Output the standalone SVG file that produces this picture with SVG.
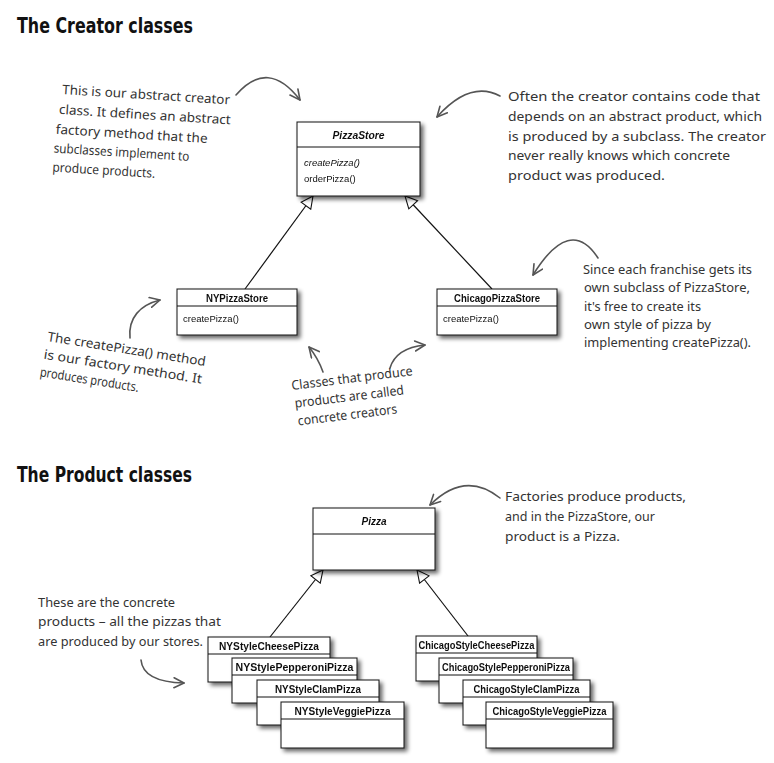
<svg xmlns="http://www.w3.org/2000/svg" width="774" height="763" viewBox="0 0 774 763">
<defs>
<style>
.title{font-family:"DejaVu Sans","Liberation Sans",sans-serif;font-weight:bold;font-size:21px;fill:#111}
.box{fill:#fff;stroke:#111;stroke-width:1}
.div{stroke:#111;stroke-width:1}
.cls{font-family:"Liberation Sans",Arial,sans-serif;font-weight:bold;font-size:10.5px;fill:#111;text-anchor:middle}
.abs{font-style:italic}
.meth{font-family:"Liberation Sans",Arial,sans-serif;font-size:9.5px;fill:#111}
.note{font-family:"Noto Sans","Liberation Sans",sans-serif;font-size:13px;fill:#333}
.arr{fill:none;stroke:#555;stroke-width:1.6;stroke-linecap:round}
.inh{fill:none;stroke:#111;stroke-width:1.2}
</style>
<filter id="sh" x="-10%" y="-10%" width="130%" height="140%">
<feGaussianBlur in="SourceAlpha" stdDeviation="2"/>
<feOffset dx="3" dy="3" result="b"/>
<feComponentTransfer><feFuncA type="linear" slope="0.6"/></feComponentTransfer>
<feMerge><feMergeNode/><feMergeNode in="SourceGraphic"/></feMerge>
</filter>
<marker id="v" viewBox="0 0 12 12" refX="11" refY="6" markerWidth="12" markerHeight="12" markerUnits="userSpaceOnUse" orient="auto">
<path d="M1,1 L11,6 L1,11" fill="none" stroke="#555" stroke-width="1.6" stroke-linecap="round" stroke-linejoin="round"/>
</marker>
<marker id="tri" viewBox="0 0 14 14" refX="13" refY="7" markerWidth="14" markerHeight="14" markerUnits="userSpaceOnUse" orient="auto">
<path d="M1,1 L13,7 L1,13 Z" fill="#fff" stroke="#111" stroke-width="1.1"/>
</marker>
</defs>
<rect width="774" height="763" fill="#fff"/>

<text class="title" x="17" y="33" textLength="176" lengthAdjust="spacingAndGlyphs">The Creator classes</text>
<text class="title" x="17" y="482" textLength="175" lengthAdjust="spacingAndGlyphs">The Product classes</text>

<g id="connectors">
<line class="inh" x1="245" y1="289" x2="313" y2="196" marker-end="url(#tri)"/>
<line class="inh" x1="492" y1="289" x2="405" y2="196" marker-end="url(#tri)"/>
<line class="inh" x1="270" y1="637" x2="323" y2="570" marker-end="url(#tri)"/>
<line class="inh" x1="468" y1="636" x2="417" y2="570" marker-end="url(#tri)"/>
<path class="arr" d="M236,95 Q268,58 300,100" marker-end="url(#v)"/>
<path class="arr" d="M500,96 Q470,80 437,117" marker-end="url(#v)"/>
<path class="arr" d="M598,258 Q570,215 533,275" marker-end="url(#v)"/>
<path class="arr" d="M130,338 C128,318 140,305 160,300" marker-end="url(#v)"/>
<path class="arr" d="M323,372 Q318,358 309,347" marker-end="url(#v)"/>
<path class="arr" d="M390,368 Q396,348 425,345" marker-end="url(#v)"/>
<path class="arr" d="M500,498 Q465,470 430,505" marker-end="url(#v)"/>
<path class="arr" d="M141,660 Q143,682 184,683" marker-end="url(#v)"/>
</g>

<g id="PizzaStore" filter="url(#sh)">
<rect class="box" x="297" y="122" width="123" height="74"/>
<line class="div" x1="297" y1="147" x2="420" y2="147"/>
<text class="cls abs" x="358.5" y="139" textLength="52" lengthAdjust="spacingAndGlyphs">PizzaStore</text>
<text class="meth abs" x="304" y="166">createPizza()</text>
<text class="meth" x="304" y="182">orderPizza()</text>
</g>

<g id="NYPizzaStore" filter="url(#sh)">
<rect class="box" x="177" y="289" width="120" height="46"/>
<line class="div" x1="177" y1="306" x2="297" y2="306"/>
<text class="cls" x="237" y="302" textLength="62" lengthAdjust="spacingAndGlyphs">NYPizzaStore</text>
<text class="meth" x="183" y="322">createPizza()</text>
</g>

<g id="ChicagoPizzaStore" filter="url(#sh)">
<rect class="box" x="437" y="289" width="120" height="46"/>
<line class="div" x1="437" y1="306" x2="557" y2="306"/>
<text class="cls" x="497" y="302" textLength="86" lengthAdjust="spacingAndGlyphs">ChicagoPizzaStore</text>
<text class="meth" x="443" y="322">createPizza()</text>
</g>

<g id="Pizza" filter="url(#sh)">
<rect class="box" x="313" y="508" width="122" height="62"/>
<line class="div" x1="313" y1="534" x2="435" y2="534"/>
<text class="cls abs" x="374" y="525" textLength="25" lengthAdjust="spacingAndGlyphs">Pizza</text>
</g>

<g id="NYStyleCheesePizza" filter="url(#sh)">
<rect class="box" x="208" y="637" width="122" height="45"/>
<line class="div" x1="208" y1="654" x2="330" y2="654"/>
<text class="cls" x="269" y="650" textLength="100" lengthAdjust="spacingAndGlyphs">NYStyleCheesePizza</text>
</g>
<g id="NYStylePepperoniPizza" filter="url(#sh)">
<rect class="box" x="232" y="658" width="125" height="45"/>
<line class="div" x1="232" y1="675" x2="357" y2="675"/>
<text class="cls" x="294.5" y="671" textLength="118" lengthAdjust="spacingAndGlyphs">NYStylePepperoniPizza</text>
</g>
<g id="NYStyleClamPizza" filter="url(#sh)">
<rect class="box" x="257" y="680" width="122" height="45"/>
<line class="div" x1="257" y1="697" x2="379" y2="697"/>
<text class="cls" x="318" y="693" textLength="86" lengthAdjust="spacingAndGlyphs">NYStyleClamPizza</text>
</g>
<g id="NYStyleVeggiePizza" filter="url(#sh)">
<rect class="box" x="281" y="702" width="123" height="46"/>
<line class="div" x1="281" y1="719" x2="404" y2="719"/>
<text class="cls" x="342.5" y="715" textLength="96" lengthAdjust="spacingAndGlyphs">NYStyleVeggiePizza</text>
</g>

<g id="ChicagoStyleCheesePizza" filter="url(#sh)">
<rect class="box" x="416" y="636" width="121" height="45"/>
<line class="div" x1="416" y1="653" x2="537" y2="653"/>
<text class="cls" x="476.5" y="649" textLength="116" lengthAdjust="spacingAndGlyphs">ChicagoStyleCheesePizza</text>
</g>
<g id="ChicagoStylePepperoniPizza" filter="url(#sh)">
<rect class="box" x="439" y="658" width="134" height="45"/>
<line class="div" x1="439" y1="675" x2="573" y2="675"/>
<text class="cls" x="506" y="671" textLength="128" lengthAdjust="spacingAndGlyphs">ChicagoStylePepperoniPizza</text>
</g>
<g id="ChicagoStyleClamPizza" filter="url(#sh)">
<rect class="box" x="463" y="680" width="127" height="45"/>
<line class="div" x1="463" y1="697" x2="590" y2="697"/>
<text class="cls" x="526.5" y="693" textLength="106" lengthAdjust="spacingAndGlyphs">ChicagoStyleClamPizza</text>
</g>
<g id="ChicagoStyleVeggiePizza" filter="url(#sh)">
<rect class="box" x="486" y="702" width="127" height="46"/>
<line class="div" x1="486" y1="719" x2="613" y2="719"/>
<text class="cls" x="549.5" y="715" textLength="114" lengthAdjust="spacingAndGlyphs">ChicagoStyleVeggiePizza</text>
</g>

<g id="note-abstract-creator" transform="rotate(3.5 62 94)">
<text class="note" x="62" y="94" textLength="168" lengthAdjust="spacingAndGlyphs">This is our abstract creator</text>
<text class="note" x="60" y="114" textLength="172" lengthAdjust="spacingAndGlyphs">class.  It defines an abstract</text>
<text class="note" x="58" y="134" textLength="152" lengthAdjust="spacingAndGlyphs">factory method that the</text>
<text class="note" x="57" y="153" textLength="136" lengthAdjust="spacingAndGlyphs">subclasses implement to</text>
<text class="note" x="57" y="172" textLength="103" lengthAdjust="spacingAndGlyphs">produce products.</text>
</g>

<g id="note-creator-code">
<text class="note" x="508" y="101" textLength="252" lengthAdjust="spacingAndGlyphs">Often the creator contains code that</text>
<text class="note" x="508" y="121" textLength="254" lengthAdjust="spacingAndGlyphs">depends on an abstract product, which</text>
<text class="note" x="508" y="141" textLength="258" lengthAdjust="spacingAndGlyphs">is produced by a subclass.  The creator</text>
<text class="note" x="508" y="160" textLength="222" lengthAdjust="spacingAndGlyphs">never really knows which concrete</text>
<text class="note" x="508" y="180" textLength="157" lengthAdjust="spacingAndGlyphs">product was produced.</text>
</g>

<g id="note-franchise">
<text class="note" x="583" y="274" textLength="169" lengthAdjust="spacingAndGlyphs">Since each franchise gets its</text>
<text class="note" x="584" y="292" textLength="166" lengthAdjust="spacingAndGlyphs">own subclass of PizzaStore,</text>
<text class="note" x="584" y="311" textLength="117" lengthAdjust="spacingAndGlyphs">it's free to create its</text>
<text class="note" x="584" y="329" textLength="127" lengthAdjust="spacingAndGlyphs">own style of pizza by</text>
<text class="note" x="584" y="347" textLength="167" lengthAdjust="spacingAndGlyphs">implementing createPizza().</text>
</g>

<g id="note-factory-method" transform="rotate(9 47 341)">
<text class="note" x="47" y="341" textLength="160" lengthAdjust="spacingAndGlyphs">The createPizza() method</text>
<text class="note" x="46" y="359" textLength="160" lengthAdjust="spacingAndGlyphs">is our factory method.  It</text>
<text class="note" x="45" y="377" textLength="100" lengthAdjust="spacingAndGlyphs">produces products.</text>
</g>

<g id="note-concrete-creators" transform="rotate(-7 292 390)">
<text class="note" x="292" y="390" textLength="122" lengthAdjust="spacingAndGlyphs">Classes that produce</text>
<text class="note" x="293" y="408" textLength="110" lengthAdjust="spacingAndGlyphs">products are called</text>
<text class="note" x="294" y="426" textLength="100" lengthAdjust="spacingAndGlyphs">concrete creators</text>
</g>

<g id="note-factories">
<text class="note" x="505" y="501" textLength="181" lengthAdjust="spacingAndGlyphs">Factories produce products,</text>
<text class="note" x="505" y="521" textLength="150" lengthAdjust="spacingAndGlyphs">and in the PizzaStore, our</text>
<text class="note" x="505" y="541" textLength="115" lengthAdjust="spacingAndGlyphs">product is a Pizza.</text>
</g>

<g id="note-concrete-products">
<text class="note" x="38" y="607" textLength="137" lengthAdjust="spacingAndGlyphs">These are the concrete</text>
<text class="note" x="38" y="626" textLength="183" lengthAdjust="spacingAndGlyphs">products – all the pizzas that</text>
<text class="note" x="38" y="646" textLength="165" lengthAdjust="spacingAndGlyphs">are produced by our stores.</text>
</g>
</svg>
